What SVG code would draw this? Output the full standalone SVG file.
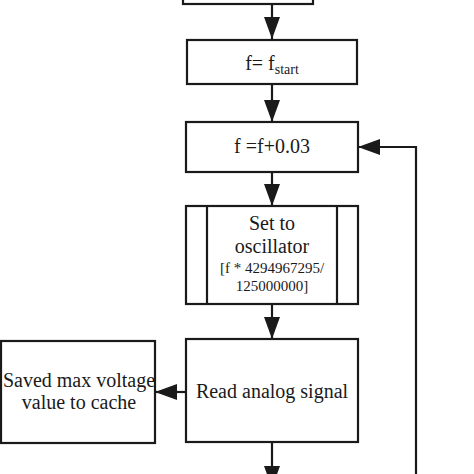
<svg xmlns="http://www.w3.org/2000/svg" width="474" height="474" viewBox="0 0 474 474">
<style>
.box{fill:#fff;stroke:#1a1a1a;stroke-width:2.2}
.ln{fill:none;stroke:#1a1a1a;stroke-width:2.2}
text{font-family:"Liberation Serif","Times New Roman",serif;fill:#1a1a1a;text-anchor:middle}
.t{font-size:20px}
.s{font-size:15px}
</style>
<defs>
<marker id="ah" markerUnits="userSpaceOnUse" markerWidth="22" markerHeight="16" refX="22" refY="8" orient="auto">
<path d="M0,0 L22,8 L0,16 z" fill="#1a1a1a"/>
</marker>
</defs>
<rect width="474" height="474" fill="#fff"/>
<g id="connectors">
<line class="ln" x1="272" y1="4" x2="272" y2="39" marker-end="url(#ah)"/>
<line class="ln" x1="272" y1="84" x2="272" y2="122" marker-end="url(#ah)"/>
<line class="ln" x1="272" y1="172" x2="272" y2="206" marker-end="url(#ah)"/>
<line class="ln" x1="272" y1="304" x2="272" y2="339" marker-end="url(#ah)"/>
<line class="ln" x1="272" y1="442" x2="272" y2="488" marker-end="url(#ah)"/>
<line class="ln" x1="186" y1="392" x2="155" y2="392" marker-end="url(#ah)"/>
<polyline class="ln" points="416,480 416,147 358,147" marker-end="url(#ah)"/>
</g>
<g id="node-top">
<rect class="box" x="183" y="-10" width="130" height="14"/>
</g>
<g id="node-fstart">
<rect class="box" x="187" y="40" width="170" height="44"/>
<text class="t" x="272" y="70">f= f<tspan font-size="14" dy="4">start</tspan></text>
</g>
<g id="node-finc">
<rect class="box" x="186" y="122" width="172" height="50"/>
<text class="t" x="272" y="153">f =f+0.03</text>
</g>
<g id="node-set">
<rect class="box" x="186" y="206" width="172" height="98"/>
<line class="ln" x1="207" y1="206" x2="207" y2="304"/>
<line class="ln" x1="337" y1="206" x2="337" y2="304"/>
<text class="t" x="272" y="230">Set to</text>
<text class="t" x="272" y="253">oscillator</text>
<text class="s" x="272" y="273">[f * 4294967295/</text>
<text class="s" x="272" y="291">125000000]</text>
</g>
<g id="node-read">
<rect class="box" x="186" y="339" width="172" height="103"/>
<text class="t" x="272" y="398">Read analog signal</text>
</g>
<g id="node-saved">
<rect class="box" x="1" y="341" width="154" height="102"/>
<text class="t" x="79" y="387">Saved  max voltage</text>
<text class="t" x="79" y="409">value to cache</text>
</g>
</svg>
